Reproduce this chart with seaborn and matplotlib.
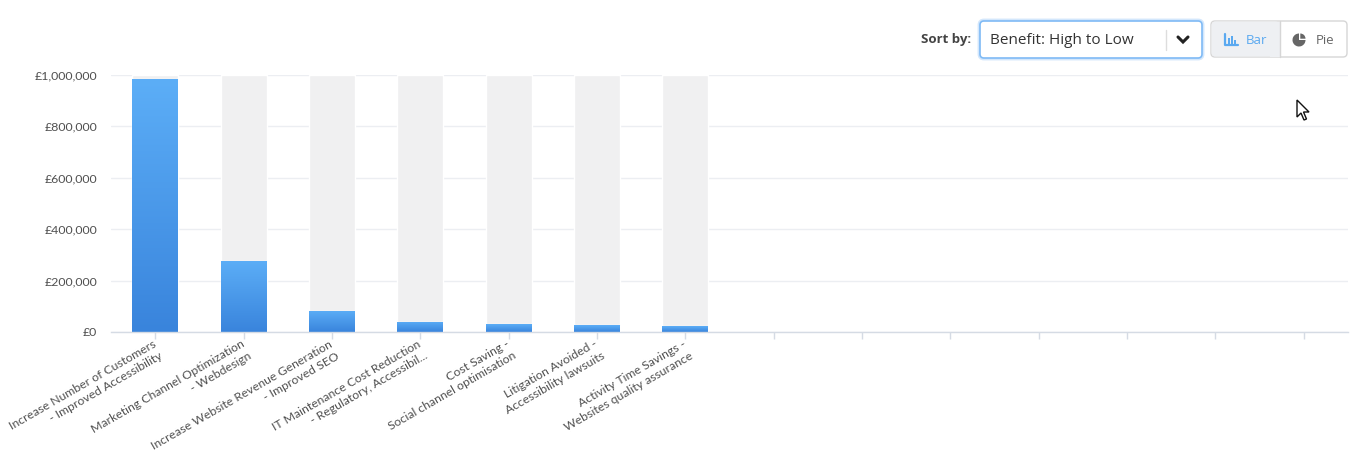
import numpy as np
import pandas as pd
import matplotlib
matplotlib.use("Agg")
import matplotlib.pyplot as plt
from matplotlib.colors import LinearSegmentedColormap
from matplotlib.patches import FancyBboxPatch, Rectangle, Wedge, Polygon
from matplotlib.ticker import FuncFormatter
from matplotlib.transforms import ScaledTranslation
import seaborn as sns

# benefits, sorted high to low
benefit_labels = [
    "Increase Number of Customers\n- Improved Accessibility",
    "Marketing Channel Optimization\n- Webdesign",
    "Increase Website Revenue Generation\n- Improved SEO",
    "IT Maintenance Cost Reduction\n- Regulatory, Accessibil...",
    "Cost Saving -\nSocial channel optimisation",
    "Litigation Avoided -\nAccessibility lawsuits",
    "Activity Time Savings -\nWebsites quality assurance",
]
benefit_values = [983000, 277000, 83000, 40000, 29500, 25500, 21500]
track_max = [1000000] * 7
empty_slots = 7
y_ticks = [0, 200000, 400000, 600000, 800000, 1000000]


def draw_chart():
    sns.set_theme(style="white")
    plt.rcParams["font.family"] = ["Lato", "DejaVu Sans"]

    W, H = 1368, 468
    fig = plt.figure(figsize=(W / 100, H / 100), dpi=100)
    ax = fig.add_axes([111 / W, 1 - 332 / H, (1348 - 111) / W, (332 - 75) / H])

    order = benefit_labels + [f"slot{i}" for i in range(empty_slots)]
    df = pd.DataFrame({"benefit": benefit_labels, "value": benefit_values, "track": track_max})

    # grey track behind each bar, then the benefit value
    sns.barplot(data=df, x="benefit", y="track", order=order, color="#f0f0f1",
                width=0.52, saturation=1, ax=ax)
    sns.barplot(data=df, x="benefit", y="value", order=order, color="#4a98ea",
                width=0.52, saturation=1, ax=ax)

    # vertical gradient on the blue bars
    cmap = LinearSegmentedColormap.from_list("blu", ["#3984dc", "#5caef7"])
    grad = np.linspace(0, 1, 256).reshape(-1, 1)
    for p in ax.containers[1]:
        x0, y0, w, h = p.get_x(), p.get_y(), p.get_width(), p.get_height()
        if h <= 0:
            continue
        im = ax.imshow(grad, extent=[x0, x0 + w, y0, y0 + h], origin="lower",
                       aspect="auto", cmap=cmap, zorder=p.get_zorder() + 0.1)
        im.set_clip_path(p)

    ax.set_xlim(-0.5, len(order) - 0.5)
    ax.set_ylim(0, 1000000)
    ax.set_yticks(y_ticks)
    ax.yaxis.set_major_formatter(FuncFormatter(lambda v, _: f"£{v:,.0f}"))
    ax.set_xlabel("")
    ax.set_ylabel("")

    ax.yaxis.grid(True, color="#eceef2", lw=1)
    ax.xaxis.grid(False)
    ax.set_axisbelow(True)
    for s in ["top", "right", "left"]:
        ax.spines[s].set_visible(False)
    ax.spines["bottom"].set_color("#d5dbe4")
    ax.spines["bottom"].set_linewidth(1)

    ax.set_xticks(range(len(order)))
    ax.set_xticklabels(benefit_labels + [""] * empty_slots, rotation=30, ha="right",
                       rotation_mode="anchor", fontsize=8.8, color="#505050",
                       linespacing=1.3)
    ax.tick_params(axis="x", bottom=True, length=5, width=1, color="#d5dbe4", pad=1)
    ax.tick_params(axis="y", left=False, length=0, pad=10, labelsize=8.9, labelcolor="#505050")
    # nudge the rotated labels so their ends sit under the ticks
    shift = ScaledTranslation(-3 / 100, 2 / 100, fig.dpi_scale_trans)
    for lbl in ax.get_xticklabels():
        lbl.set_transform(lbl.get_transform() + shift)

    # controls above the chart (pixel coordinates)
    ui = fig.add_axes([0, 0, 1, 1])
    ui.set_xlim(0, W)
    ui.set_ylim(H, 0)
    ui.axis("off")

    ui.text(971, 40, "Sort by:", ha="right", va="center", fontsize=9.5,
            fontweight="bold", color="#444444", family=["Open Sans", "DejaVu Sans"])
    ui.add_patch(FancyBboxPatch((980, 21), 222, 37, boxstyle="round,pad=0,rounding_size=4",
                                fc="none", ec="#d3e7fc", lw=3.5))
    ui.add_patch(FancyBboxPatch((980, 21), 222, 37, boxstyle="round,pad=0,rounding_size=4",
                                fc="white", ec="#7fbaf5", lw=1.2))
    ui.text(990, 40, "Benefit: High to Low", ha="left", va="center", fontsize=11,
            color="#333333", family=["Open Sans", "DejaVu Sans"])
    ui.plot([1166, 1166], [30, 50], color="#dddddd", lw=1)
    ui.plot([1178, 1183, 1188], [37, 42, 37], color="#222222", lw=2.2,
            solid_capstyle="round", solid_joinstyle="miter")

    # Bar / Pie toggle
    ui.add_patch(FancyBboxPatch((1211, 21), 136, 36, boxstyle="round,pad=0,rounding_size=4",
                                fc="white", ec="#d6d6d6", lw=1))
    ui.add_patch(FancyBboxPatch((1211.5, 21.5), 68, 35, boxstyle="round,pad=0,rounding_size=4",
                                fc="#eef0f3", ec="none"))
    ui.add_patch(Rectangle((1270, 21.5), 10, 35, fc="#eef0f3", ec="none"))
    ui.plot([1280, 1280], [21, 57], color="#d6d6d6", lw=1)

    blue = "#5aa9f0"
    ui.plot([1225, 1225, 1238], [34, 45, 45], color=blue, lw=1.6)
    for bx, top in [(1228.5, 38), (1231.5, 35.5), (1234.5, 39.5)]:
        ui.add_patch(Rectangle((bx - 1, top), 2, 45 - top, fc=blue, ec="none"))
    ui.text(1246, 40, "Bar", ha="left", va="center", fontsize=9.5, color=blue,
            family=["Open Sans", "DejaVu Sans"])

    grey = "#666666"
    ui.add_patch(Wedge((1299, 40), 6.5, 0, 270, fc=grey, ec="none"))
    ui.add_patch(Wedge((1300.3, 38.7), 5.2, 270, 360, fc=grey, ec="none"))
    ui.text(1316, 40, "Pie", ha="left", va="center", fontsize=9.5, color=grey,
            family=["Open Sans", "DejaVu Sans"])

    # mouse pointer from the screen capture
    pts = np.array([(0, 0), (0, 17), (4, 13), (7, 20), (9.5, 19), (6.5, 12), (12, 12)])
    ui.add_patch(Polygon(pts + [1297, 100], closed=True, fc="white", ec="#111111", lw=1))

    fig.savefig("out.png", dpi=100, facecolor="white")
    plt.close(fig)


if __name__ == "__main__":
    draw_chart()
